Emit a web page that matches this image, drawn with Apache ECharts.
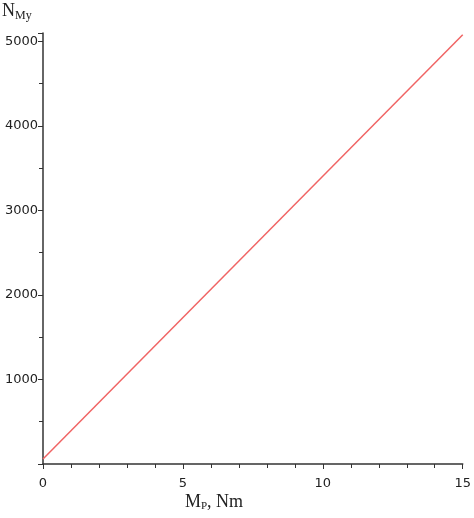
<!DOCTYPE html>
<html><head><meta charset="utf-8">
<script src="https://cdn.jsdelivr.net/npm/echarts@6/dist/echarts.min.js"></script>
<style>html,body{margin:0;padding:0;background:#fff}#c{width:474px;height:518px}</style>
</head><body><div id="c"></div>
<script>
const xValues = [0, 15];
const yValues = [60, 5080];
const xTicks = [0, 5, 10, 15];
const yTicks = [1000, 2000, 3000, 4000, 5000];

const chart = echarts.init(document.getElementById('c'));
const axisCommon = {
  axisLine: {show: true, lineStyle: {color: '#333', width: 1.5}},
  axisTick: {show: true, inside: false, length: 5, lineStyle: {color: '#333'}},
  splitLine: {show: false},
  axisLabel: {color: '#222', fontFamily: 'DejaVu Sans', fontSize: 13}
};
chart.setOption({
  animation: false,
  grid: {left: 43, right: 5, top: 33, bottom: 54, containLabel: false},
  xAxis: Object.assign({}, axisCommon, {
    type: 'value', min: 0, max: 15, interval: 5,
    minorTick: {show: true, splitNumber: 5, length: 4, lineStyle: {color: '#333'}},
    axisLabel: Object.assign({}, axisCommon.axisLabel, {margin: 13, formatter: v => xTicks.includes(v) ? String(v) : ''})
  }),
  yAxis: Object.assign({}, axisCommon, {
    type: 'value', min: 0, max: 5100, interval: 1000,
    minorTick: {show: true, splitNumber: 2, length: 4, lineStyle: {color: '#333'}},
    axisLabel: Object.assign({}, axisCommon.axisLabel, {margin: 5, showMinLabel: false, showMaxLabel: false,
      formatter: v => yTicks.includes(v) ? String(v) : ''})
  }),
  graphic: [
    {type: 'text', left: 2, top: 2, style: {text: '{a|N}{b|My}', rich: {
      a: {fontFamily: 'Liberation Serif', fontSize: 18, fill: '#222'},
      b: {fontFamily: 'Liberation Serif', fontSize: 12, fill: '#222', padding: [10, 0, 0, 0]}}}},
    {type: 'text', left: 185, top: 493, style: {text: '{a|M}{b|P}{a|, Nm}', rich: {
      a: {fontFamily: 'Liberation Serif', fontSize: 18, fill: '#222'},
      b: {fontFamily: 'Liberation Serif', fontSize: 11, fill: '#222', padding: [8, 0, 0, 0]}}}}
  ],
  series: [{
    type: 'line', showSymbol: false, silent: true,
    data: xValues.map((x, i) => [x, yValues[i]]),
    lineStyle: {color: '#f06464', width: 1.5}
  }]
});
</script></body></html>
